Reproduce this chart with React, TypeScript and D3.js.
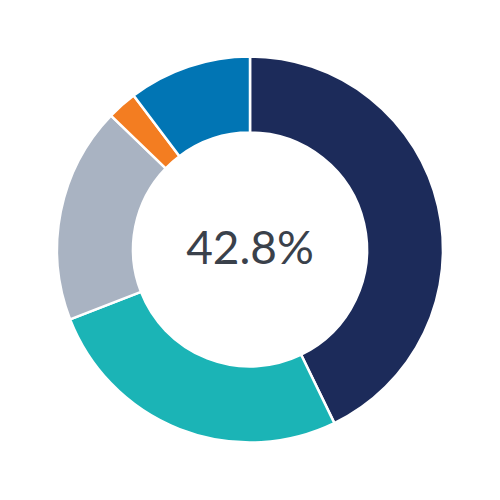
import React from "react";
import * as d3 from "d3";

const categories = ["Navy", "Teal", "Gray", "Orange", "Blue"];
const values = [42.8, 26.3, 18.1, 2.5, 10.3];
const colors = ["#1c2b5a", "#1bb4b6", "#a9b3c2", "#f37d21", "#0175b4"];
const centerLabel = "42.8%";

export default function App() {
  const W = 500, H = 500;
  const cx = 250, cy = 249.5;
  const outerR = 193, innerR = 117;
  const pie = d3.pie<number>().sort(null).value((d) => d)(values);
  const arc = d3.arc<d3.PieArcDatum<number>>().innerRadius(innerR).outerRadius(outerR);
  return (
    <svg width={W} height={H} style={{ position: "absolute", left: 0, top: 0, background: "#fff" }}>
      <g transform={`translate(${cx},${cy})`}>
        {pie.map((p, i) => (
          <path key={categories[i]} d={arc(p) || ""} fill={colors[i]} stroke="#fff" strokeWidth={2.5} strokeLinejoin="round" />
        ))}
        <text x={0} y={-3} textAnchor="middle" dominantBaseline="central" fontFamily="Lato" fontSize={46} fill="#3a414b">
          {centerLabel}
        </text>
      </g>
    </svg>
  );
}
